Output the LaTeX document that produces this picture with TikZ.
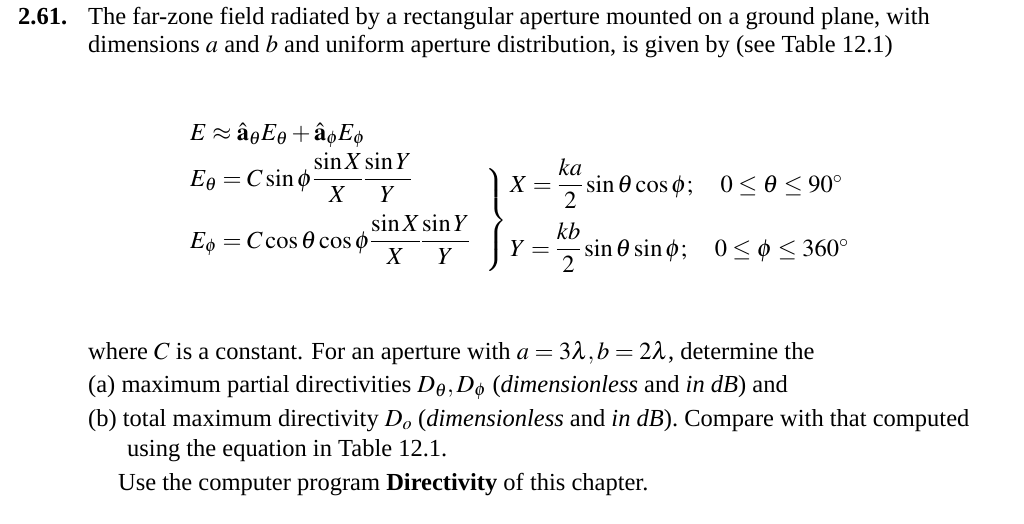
\documentclass[tikz,border=0pt]{standalone}
\usepackage{amsmath}
\usepackage{mathptmx}
\usepackage{fontspec}
\setmainfont{Liberation Serif}
\begin{document}
\begin{tikzpicture}[x=1pt,y=-1pt,
  txt/.style={anchor=base west,inner sep=0pt,font=\fontsize{24.5}{28}\selectfont}]
\useasboundingbox (0,0) rectangle (1024,524);
\node[txt] (num) at (18,25) {\textbf{2.61.}};
\node[txt] (l1) at (88,25) {The far-zone field radiated by a rectangular aperture mounted on a ground plane, with};
\node[txt] (l2) at (88,53) {dimensions $a$ and $b$ and uniform aperture distribution, is given by (see Table 12.1)};
\node[txt] (e0) at (190,140) {$E\approx\hat{\mathbf{a}}_\theta E_\theta+\hat{\mathbf{a}}_\phi E_\phi$};
\node[txt] (e1) at (190,186) {$E_\theta=C\sin\phi\dfrac{\sin X}{X}\dfrac{\sin Y}{Y}$};
\node[txt] (e2) at (190,248) {$E_\phi=C\cos\theta\cos\phi\dfrac{\sin X}{X}\dfrac{\sin Y}{Y}$};
\node[anchor=west,inner sep=0pt,font=\fontsize{24.5}{28}\selectfont] (br) at (484,220) {$\left.\rule{0pt}{58pt}\right\}$};
\node[txt] (x) at (510,192) {$X=\dfrac{ka}{2}\sin\theta\cos\phi;\quad 0\le\theta\le90^\circ$};
\node[txt] (y) at (510,256) {$Y=\dfrac{kb}{2}\sin\theta\sin\phi;\quad 0\le\phi\le360^\circ$};
\node[txt] (w) at (88,359) {where $C$ is a constant. For an aperture with $a=3\lambda, b=2\lambda$, determine the};
\node[txt] (a) at (88,392) {(a) maximum partial directivities $D_\theta, D_\phi$ (\textit{dimensionless} and \textit{in dB}) and};
\node[txt] (b) at (88,426) {(b) total maximum directivity $D_o$ (\textit{dimensionless} and \textit{in dB}). Compare with that computed};
\node[txt] (b2) at (127,456) {using the equation in Table 12.1.};
\node[txt] (u) at (118,490) {Use the computer program \textbf{Directivity} of this chapter.};
\end{tikzpicture}
\end{document}
